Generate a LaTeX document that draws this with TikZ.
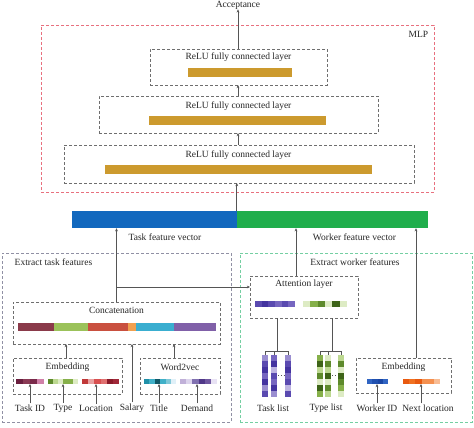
\documentclass[tikz,border=0pt]{standalone}
\usepackage{fontspec}
\setmainfont{Liberation Serif}
\usetikzlibrary{arrows.meta}
% colours
\definecolor{gold}{HTML}{CC9A2E}
\definecolor{tblue}{HTML}{1268BE}
\definecolor{wgreen}{HTML}{20AE4C}
\definecolor{mlpred}{HTML}{E8707E}
\definecolor{wbox}{HTML}{74CFA2}
\definecolor{tbox}{HTML}{9090A4}
\definecolor{ln}{HTML}{555555}
% concat
\definecolor{k1}{HTML}{8A3A4A}\definecolor{k2}{HTML}{9BC25A}\definecolor{k3}{HTML}{C9503F}
\definecolor{k4}{HTML}{F0A050}\definecolor{k5}{HTML}{3AAED0}\definecolor{k6}{HTML}{8060A8}
% maroon
\definecolor{m1}{HTML}{6A1F3F}\definecolor{m2}{HTML}{8A3A55}\definecolor{m3}{HTML}{7A2A4A}\definecolor{m4}{HTML}{D080A8}
% greens
\definecolor{g1}{HTML}{3E6418}\definecolor{g2}{HTML}{5E8A2C}\definecolor{g3}{HTML}{86B04A}\definecolor{g4}{HTML}{BCD890}\definecolor{g5}{HTML}{DDEBC4}
% reds
\definecolor{r1}{HTML}{C03838}\definecolor{r2}{HTML}{E8A0A0}\definecolor{r3}{HTML}{D85050}\definecolor{r4}{HTML}{E07070}\definecolor{r5}{HTML}{8A1A28}\definecolor{r6}{HTML}{A02838}
% cyan
\definecolor{c1}{HTML}{2090A8}\definecolor{c2}{HTML}{40B0C8}\definecolor{c3}{HTML}{105868}\definecolor{c4}{HTML}{80C8D8}\definecolor{c5}{HTML}{E0F0F8}
% violet (demand)
\definecolor{v1}{HTML}{C0B0D8}\definecolor{v2}{HTML}{DCD4EC}\definecolor{v3}{HTML}{8070B0}\definecolor{v4}{HTML}{503888}\definecolor{v5}{HTML}{7058A0}\definecolor{v6}{HTML}{E8E2F4}
% purples (task list)
\definecolor{p1}{HTML}{4434A0}\definecolor{p2}{HTML}{5A4AB0}\definecolor{p3}{HTML}{7666C0}\definecolor{p4}{HTML}{9A8ED0}\definecolor{p5}{HTML}{BDB4E2}
% blue / orange
\definecolor{b1}{HTML}{2050B0}\definecolor{b2}{HTML}{3064C2}\definecolor{b3}{HTML}{1A46A4}
\definecolor{o1}{HTML}{E85A10}\definecolor{o2}{HTML}{F07020}\definecolor{o3}{HTML}{F49050}\definecolor{o4}{HTML}{F8BC94}
% horizontal cells: x0, y0 (top), cell width, height, colours
\newcommand\hcells[5]{\foreach \c [count=\i from 0] in {#5}{\fill[\c] ({#1+\i*#3},#2) rectangle ++(#3,#4);}}
% vertical cells: x0, y0 (top), width, cell height, colours
\newcommand\vcells[5]{\foreach \c [count=\i from 0] in {#5}{\fill[\c] (#1,{#2+\i*#4}) rectangle ++(#3,#4);}}
\begin{document}
\begin{tikzpicture}[x=1pt,y=-1pt,
  box/.style={draw=ln!85, dash pattern=on 3pt off 2pt, line width=0.7pt, inner sep=0, outer sep=0},
  lbl/.style={font=\fontsize{9.5}{11}\selectfont, inner sep=0, text=black!85},
  arr/.style={draw=ln, line width=0.7pt, -{Stealth[length=3.2pt,width=2.8pt]}},
  line/.style={draw=ln, line width=0.7pt},
  slot/.style={inner sep=0, outer sep=0, minimum height=5pt},
  bar/.style={inner sep=0, outer sep=0, minimum height=9pt, fill=gold}]
\useasboundingbox (0,0) rectangle (474,428);
\fill[white] (0,0) rectangle (474,428);

% ---------- MLP ----------
\node[draw=mlpred, dash pattern=on 3pt off 2pt, line width=0.7pt, minimum width=393pt, minimum height=167pt, inner sep=0] (mlp) at (237.5,108.5) {};
\node[lbl] (mlpl) at (418.5,34) {MLP};
\node[lbl] (acc) at (238,5) {Acceptance};

\node[box, minimum width=177pt, minimum height=36pt] (l1) at (238.5,67) {};
\node[lbl] (l1t) at (238.5,57) {ReLU fully connected layer};
\node[bar, minimum width=104pt] (b1) at (240,72.5) {};

\node[box, minimum width=279pt, minimum height=37pt] (l2) at (238.5,114.5) {};
\node[lbl] (l2t) at (238.5,106) {ReLU fully connected layer};
\node[bar, minimum width=177pt] (b2) at (237.5,120.5) {};

\node[box, minimum width=350pt, minimum height=38pt] (l3) at (239,164) {};
\node[lbl] (l3t) at (238.5,155) {ReLU fully connected layer};
\node[bar, minimum width=267pt] (b3) at (238.5,169.5) {};

\draw[arr] (l1.north -| acc.south) -- (acc.south);
\draw[arr] (l2.north -| acc.south) -- (l1.south -| acc.south);
\draw[arr] (l3.north -| acc.south) -- (l2.south -| acc.south);

% ---------- feature vector ----------
\node[fill=tblue, inner sep=0, minimum width=165pt, minimum height=17pt] (tfv) at (154.5,219.5) {};
\node[fill=wgreen, inner sep=0, minimum width=191pt, minimum height=17pt] (wfv) at (332.5,219.5) {};
\draw[arr] (wfv.north west) -- (l3.south -| wfv.north west);
\node[lbl] (tfvl) at (165,237) {Task feature vector};
\node[lbl] (wfvl) at (354.5,237) {Worker feature vector};

% ---------- task features ----------
\node[draw=tbox, dash pattern=on 3pt off 2pt, line width=0.7pt, minimum width=229pt, minimum height=169pt, inner sep=0] (tf) at (116.5,337.5) {};
\node[lbl] (tfl) at (53.5,262) {Extract task features};

\node[box, minimum width=207pt, minimum height=42pt] (cc) at (116.5,323) {};
\node[lbl] (cct) at (116.5,310) {Concatenation};
\fill[k1] (18,323) rectangle (54,331);
\fill[k2] (54,323) rectangle (88,331);
\fill[k3] (88,323) rectangle (128,331);
\fill[k4] (128,323) rectangle (136,331);
\fill[k5] (136,323) rectangle (174,331);
\fill[k6] (174,323) rectangle (216,331);

\node[box, minimum width=109pt, minimum height=36pt] (te) at (67.5,376) {};
\node[lbl] (tet) at (67.5,367) {Embedding};
\node[box, minimum width=80pt, minimum height=36pt] (w2v) at (180,376) {};
\node[lbl] (w2vt) at (180,367) {Word2vec};

\hcells{16}{379}{7}{5}{m1,m2,m3,m4}
\node[slot, minimum width=28pt] (tid) at (30,381.5) {};
\hcells{48}{379}{5}{5}{g2,g4,g5,g3,g3,g5}
\node[slot, minimum width=30pt] (typ) at (63,381.5) {};
\hcells{82}{379}{6.2}{5}{r1,r2,r3,r4,r5,r6}
\node[slot, minimum width=37pt] (loc) at (100.5,381.5) {};
\hcells{144}{379}{5.4}{5}{c1,c2,c3,c2,c4,c5}
\node[slot, minimum width=32pt] (tit) at (160,381.5) {};
\hcells{180}{379}{6.2}{5}{v1,v2,v3,v4,v5,v6}
\node[slot, minimum width=37pt] (dem) at (198.5,381.5) {};

\node[lbl] (tidl) at (30,408) {Task ID};
\node[lbl] (typl) at (63,408) {Type};
\node[lbl] (locl) at (96,408) {Location};
\node[lbl] (sall) at (132,408) {Salary};
\node[lbl] (titl) at (159,408) {Title};
\node[lbl] (deml) at (197,408) {Demand};

\draw[arr] ([yshift=1pt]tidl.north) -- (tidl.north |- tid.south);
\draw[arr] ([yshift=1pt]typl.north) -- (typl.north |- typ.south);
\draw[arr] ([yshift=1pt]locl.north) -- (locl.north |- loc.south);
\draw[arr] ([yshift=1pt]titl.north) -- (titl.north |- tit.south);
\draw[arr] ([yshift=1pt]deml.north) -- (deml.north |- dem.south);
\draw[arr] ([yshift=1pt]sall.north) -- (sall.north |- cc.south);
\draw[arr] (te.north -| 66,0) -- (cc.south -| 66,0);
\draw[arr] (w2v.north -| 174,0) -- (cc.south -| 174,0);
\draw[arr] (cc.north) -- (cc.north |- tfv.south);

% ---------- worker features ----------
\node[draw=wbox, dash pattern=on 3pt off 2pt, line width=0.7pt, minimum width=232pt, minimum height=169pt, inner sep=0] (wf) at (356,337.5) {};
\node[lbl] (wfl) at (355,262) {Extract worker features};

\node[box, minimum width=108pt, minimum height=42pt] (att) at (304,297) {};
\node[lbl] (attt) at (304,284) {Attention layer};
\hcells{255}{301}{6.67}{6}{p2,p1,p2,p3,p2,p3}
\hcells{303}{301}{7.33}{6}{g5,g3,g2,g5,g1,g5}

\coordinate (jn) at (cc.north |- 0,287);
\draw[arr] (jn) -- (jn -| att.west);
\draw[arr] (att.north -| 296,0) -- (wfv.south -| 296,0);

% task list columns
\vcells{262}{355}{6}{6}{p4,p2,p1,p3,p1,p4,p2}
\vcells{271}{355}{6}{6}{p3,p1,p5,p2,p3,p1,p4}
\vcells{285}{355}{6}{6}{p4,p2,p1,p3,p2,p5,p2}
\node[slot, minimum width=29pt, minimum height=42pt] (tl) at (276.5,376) {};
\draw[ln, line width=0.8pt, dotted] (278,375.5) -- (284,375.5);
% type list columns
\vcells{317}{355}{6}{6}{g3,g1,g4,g2,g5,g1,g3}
\vcells{325}{355}{6}{6}{g5,g2,g4,g1,g5,g2,g4}
\vcells{338}{355}{6}{6}{g4,g2,g5,g1,g2,g3,g5}
\node[slot, minimum width=27pt, minimum height=42pt] (yl) at (330.5,376) {};
\draw[ln, line width=0.8pt, dotted] (332,375.5) -- (337,375.5);

\draw[line] (att.south -| 277,0) -- (277,351);
\draw[line] (265,355) -- (265,351) -- (288,351) -- (288,355);
\draw[line] (274,351) -- (274,355);
\draw[line] (att.south -| 332,0) -- (332,351);
\draw[line] (320,355) -- (320,351) -- (341,351) -- (341,355);
\draw[line] (328,351) -- (328,355);

\node[lbl] (tll) at (273,408) {Task list};
\node[lbl] (yll) at (326,408) {Type list};

\node[box, minimum width=95pt, minimum height=35pt] (we) at (403.5,375.5) {};
\node[lbl] (wet) at (403.5,367) {Embedding};
\hcells{367}{379}{5.25}{5}{b2,b1,b3,b2}
\node[slot, minimum width=21pt] (wid) at (377.5,381.5) {};
\hcells{403}{379}{6.17}{5}{o1,o2,o1,o3,o3,o4}
\node[slot, minimum width=37pt] (nl) at (421.5,381.5) {};

\node[lbl] (widl) at (377,408) {Worker ID};
\node[lbl] (nll) at (428,408) {Next location};
\draw[arr] ([yshift=1pt]widl.north) -- (widl.north |- wid.south);
\draw[arr] ([yshift=1pt]nll.north -| 421,0) -- (nl.south -| 421,0);
\draw[arr] (we.north -| 416,0) -- (wfv.south -| 416,0);
\end{tikzpicture}
\end{document}
